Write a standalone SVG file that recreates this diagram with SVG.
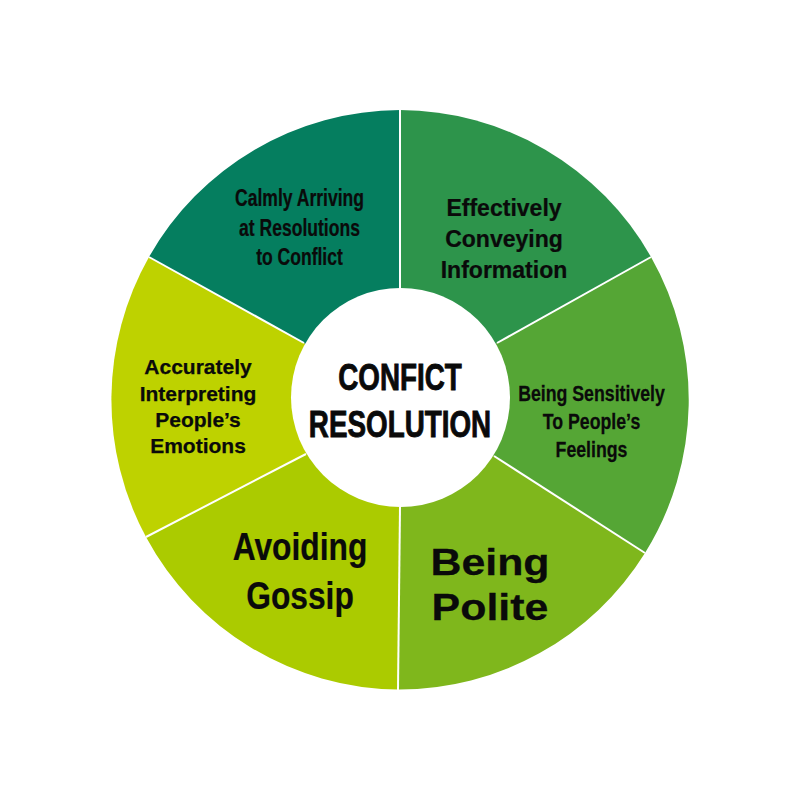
<svg xmlns="http://www.w3.org/2000/svg" width="800" height="800" viewBox="0 0 800 800">
<style>
text{font-family:"Liberation Sans",Arial,sans-serif;font-weight:bold;fill:#0a0a0a;text-anchor:middle;stroke:#0a0a0a;stroke-width:.25}
#spokes line{stroke:#fff;stroke-width:2}
</style>
<rect width="800" height="800" fill="#fff"/>
<g id="seg-effectively"><path fill="#2d944b" d="M400 110 A289.7 289.7 0 0 1 651 257 L497 343 L400 397Z"/><text font-size="24.5" transform="translate(504 216) scale(.94 1)">Effectively</text><text font-size="24.5" transform="translate(504 247) scale(.94 1)">Conveying</text><text font-size="24.5" transform="translate(504 278) scale(.94 1)">Information</text></g>
<g id="seg-sensitively"><path fill="#55a635" d="M651 257 A289.7 289.7 0 0 1 645 553 L494 456 L400 397 L497 343Z"/><text font-size="22" transform="translate(591.500 401) scale(.806 1)">Being Sensitively</text><text font-size="22" transform="translate(591.500 429) scale(.806 1)">To People’s</text><text font-size="22" transform="translate(591.500 457) scale(.806 1)">Feelings</text></g>
<g id="seg-polite"><path fill="#7fb71c" d="M645 553 A289.7 289.7 0 0 1 398 689.500 L400 507 L400 397 L494 456Z"/><text font-size="37" transform="translate(490 575) scale(1.16 1)">Being</text><text font-size="37" transform="translate(490 620) scale(1.16 1)">Polite</text></g>
<g id="seg-gossip"><path fill="#abcb00" d="M398 689.500 A289.700 289.700 0 0 1 146 537 L306 454 L400 397 L400 507Z"/><text font-size="38" transform="translate(300 560) scale(.836 1)">Avoiding</text><text font-size="38" transform="translate(300 609) scale(.836 1)">Gossip</text></g>
<g id="seg-interpreting"><path fill="#bed200" d="M146 537 A289.700 289.700 0 0 1 149 257 L304 343 L400 397 L306 454Z"/><text font-size="21" transform="translate(198 374)">Accurately</text><text font-size="21" transform="translate(198 401)">Interpreting</text><text font-size="21" transform="translate(198 427)">People’s</text><text font-size="21" transform="translate(198 453)">Emotions</text></g>
<g id="seg-calmly"><path fill="#057e5f" d="M149 257 A289.700 289.700 0 0 1 400 110 L400 397 L304 343Z"/><text font-size="23" transform="translate(299.500 206) scale(.763 1)">Calmly Arriving</text><text font-size="23" transform="translate(299.500 236) scale(.763 1)">at Resolutions</text><text font-size="23" transform="translate(299.500 265) scale(.763 1)">to Conflict</text></g>
<g id="spokes"><line x1="400" y1="110" x2="400" y2="290"/><line x1="651" y1="257" x2="497" y2="343"/><line x1="645" y1="553" x2="494" y2="456"/><line x1="398" y1="690" x2="400" y2="507"/><line x1="146" y1="537" x2="306" y2="454"/><line x1="149" y1="257" x2="304" y2="343"/></g>
<g id="center"><circle cx="400.500" cy="397.500" r="109.500" fill="#fff"/><text font-size="37" style="stroke-width:.9" transform="translate(400 390) scale(.752 1)">CONFICT</text><text font-size="37" style="stroke-width:.9" transform="translate(400 437) scale(.752 1)">RESOLUTION</text></g>
</svg>
